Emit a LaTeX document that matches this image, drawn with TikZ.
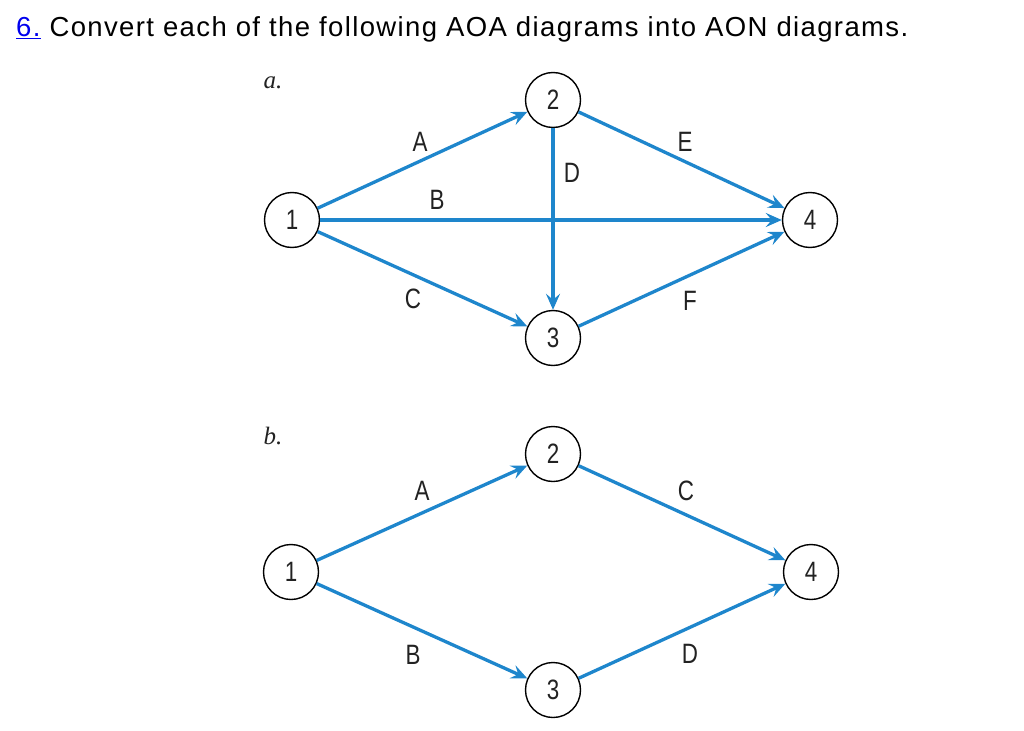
\documentclass[tikz,border=0pt]{standalone}
\usepackage{fontspec}
\setmainfont{Liberation Sans}
\newfontfamily\condfont[FakeStretch=0.8]{Liberation Sans}
\newfontfamily\titlefont[LetterSpace=5]{Liberation Sans}
\newfontfamily\serifit{Liberation Serif}
\usetikzlibrary{arrows.meta}
\definecolor{arrowblue}{HTML}{1E86CC}
\definecolor{linkblue}{HTML}{0000EE}
\definecolor{labelgray}{HTML}{222222}
\tikzset{
  evt/.style={circle, draw=black, line width=1.4pt, minimum size=55pt, inner sep=0pt,
              font=\condfont\fontsize{28}{28}\selectfont, text=labelgray, fill=white},
  act/.style={draw=arrowblue, line width=3.3pt,
              -{Stealth[length=16pt,width=14pt,inset=6pt]}},
  actlbl/.style={font=\condfont\fontsize{28}{28}\selectfont, text=labelgray, inner sep=0pt},
  partlbl/.style={font=\serifit\itshape\fontsize{25}{25}\selectfont, text=labelgray, inner sep=0pt}
}
\begin{document}
\begin{tikzpicture}[x=1pt,y=-1pt]
\useasboundingbox (0,0) rectangle (1024,730);
% title
\node[anchor=base west, inner sep=0pt, font=\titlefont\fontsize{27.5}{27.5}\selectfont] (title) at (16,37)
  {\textcolor{linkblue}{\underline{6.}} Convert each of the following AOA diagrams into AON diagrams.};
% part a
\node[partlbl] (pa) at (273,83) {a.};
\node[evt] (a1) at (292,220) {1};
\node[evt] (a2) at (553,100) {2};
\node[evt] (a3) at (553,338) {3};
\node[evt] (a4) at (810,220) {4};
\draw[act] (a1) -- (a2);
\draw[act] (a1) -- (a4);
\draw[act] (a1) -- (a3);
\draw[act] (a2) -- (a3);
\draw[act] (a2) -- (a4);
\draw[act] (a3) -- (a4);
\node[actlbl] (la) at (420,142) {A};
\node[actlbl] (lb) at (437,200) {B};
\node[actlbl] (lc) at (413,299) {C};
\node[actlbl] (ld) at (572,173) {D};
\node[actlbl] (le) at (685,142) {E};
\node[actlbl] (lf) at (690,301) {F};
% part b
\node[partlbl] (pb) at (273,436) {b.};
\node[evt] (b1) at (291,572) {1};
\node[evt] (b2) at (553,454) {2};
\node[evt] (b3) at (553,690) {3};
\node[evt] (b4) at (811,572) {4};
\draw[act] (b1) -- (b2);
\draw[act] (b1) -- (b3);
\draw[act] (b2) -- (b4);
\draw[act] (b3) -- (b4);
\node[actlbl] (lba) at (422,491) {A};
\node[actlbl] (lbb) at (413,655) {B};
\node[actlbl] (lbc) at (686,491) {C};
\node[actlbl] (lbd) at (690,654) {D};
\end{tikzpicture}
\end{document}
